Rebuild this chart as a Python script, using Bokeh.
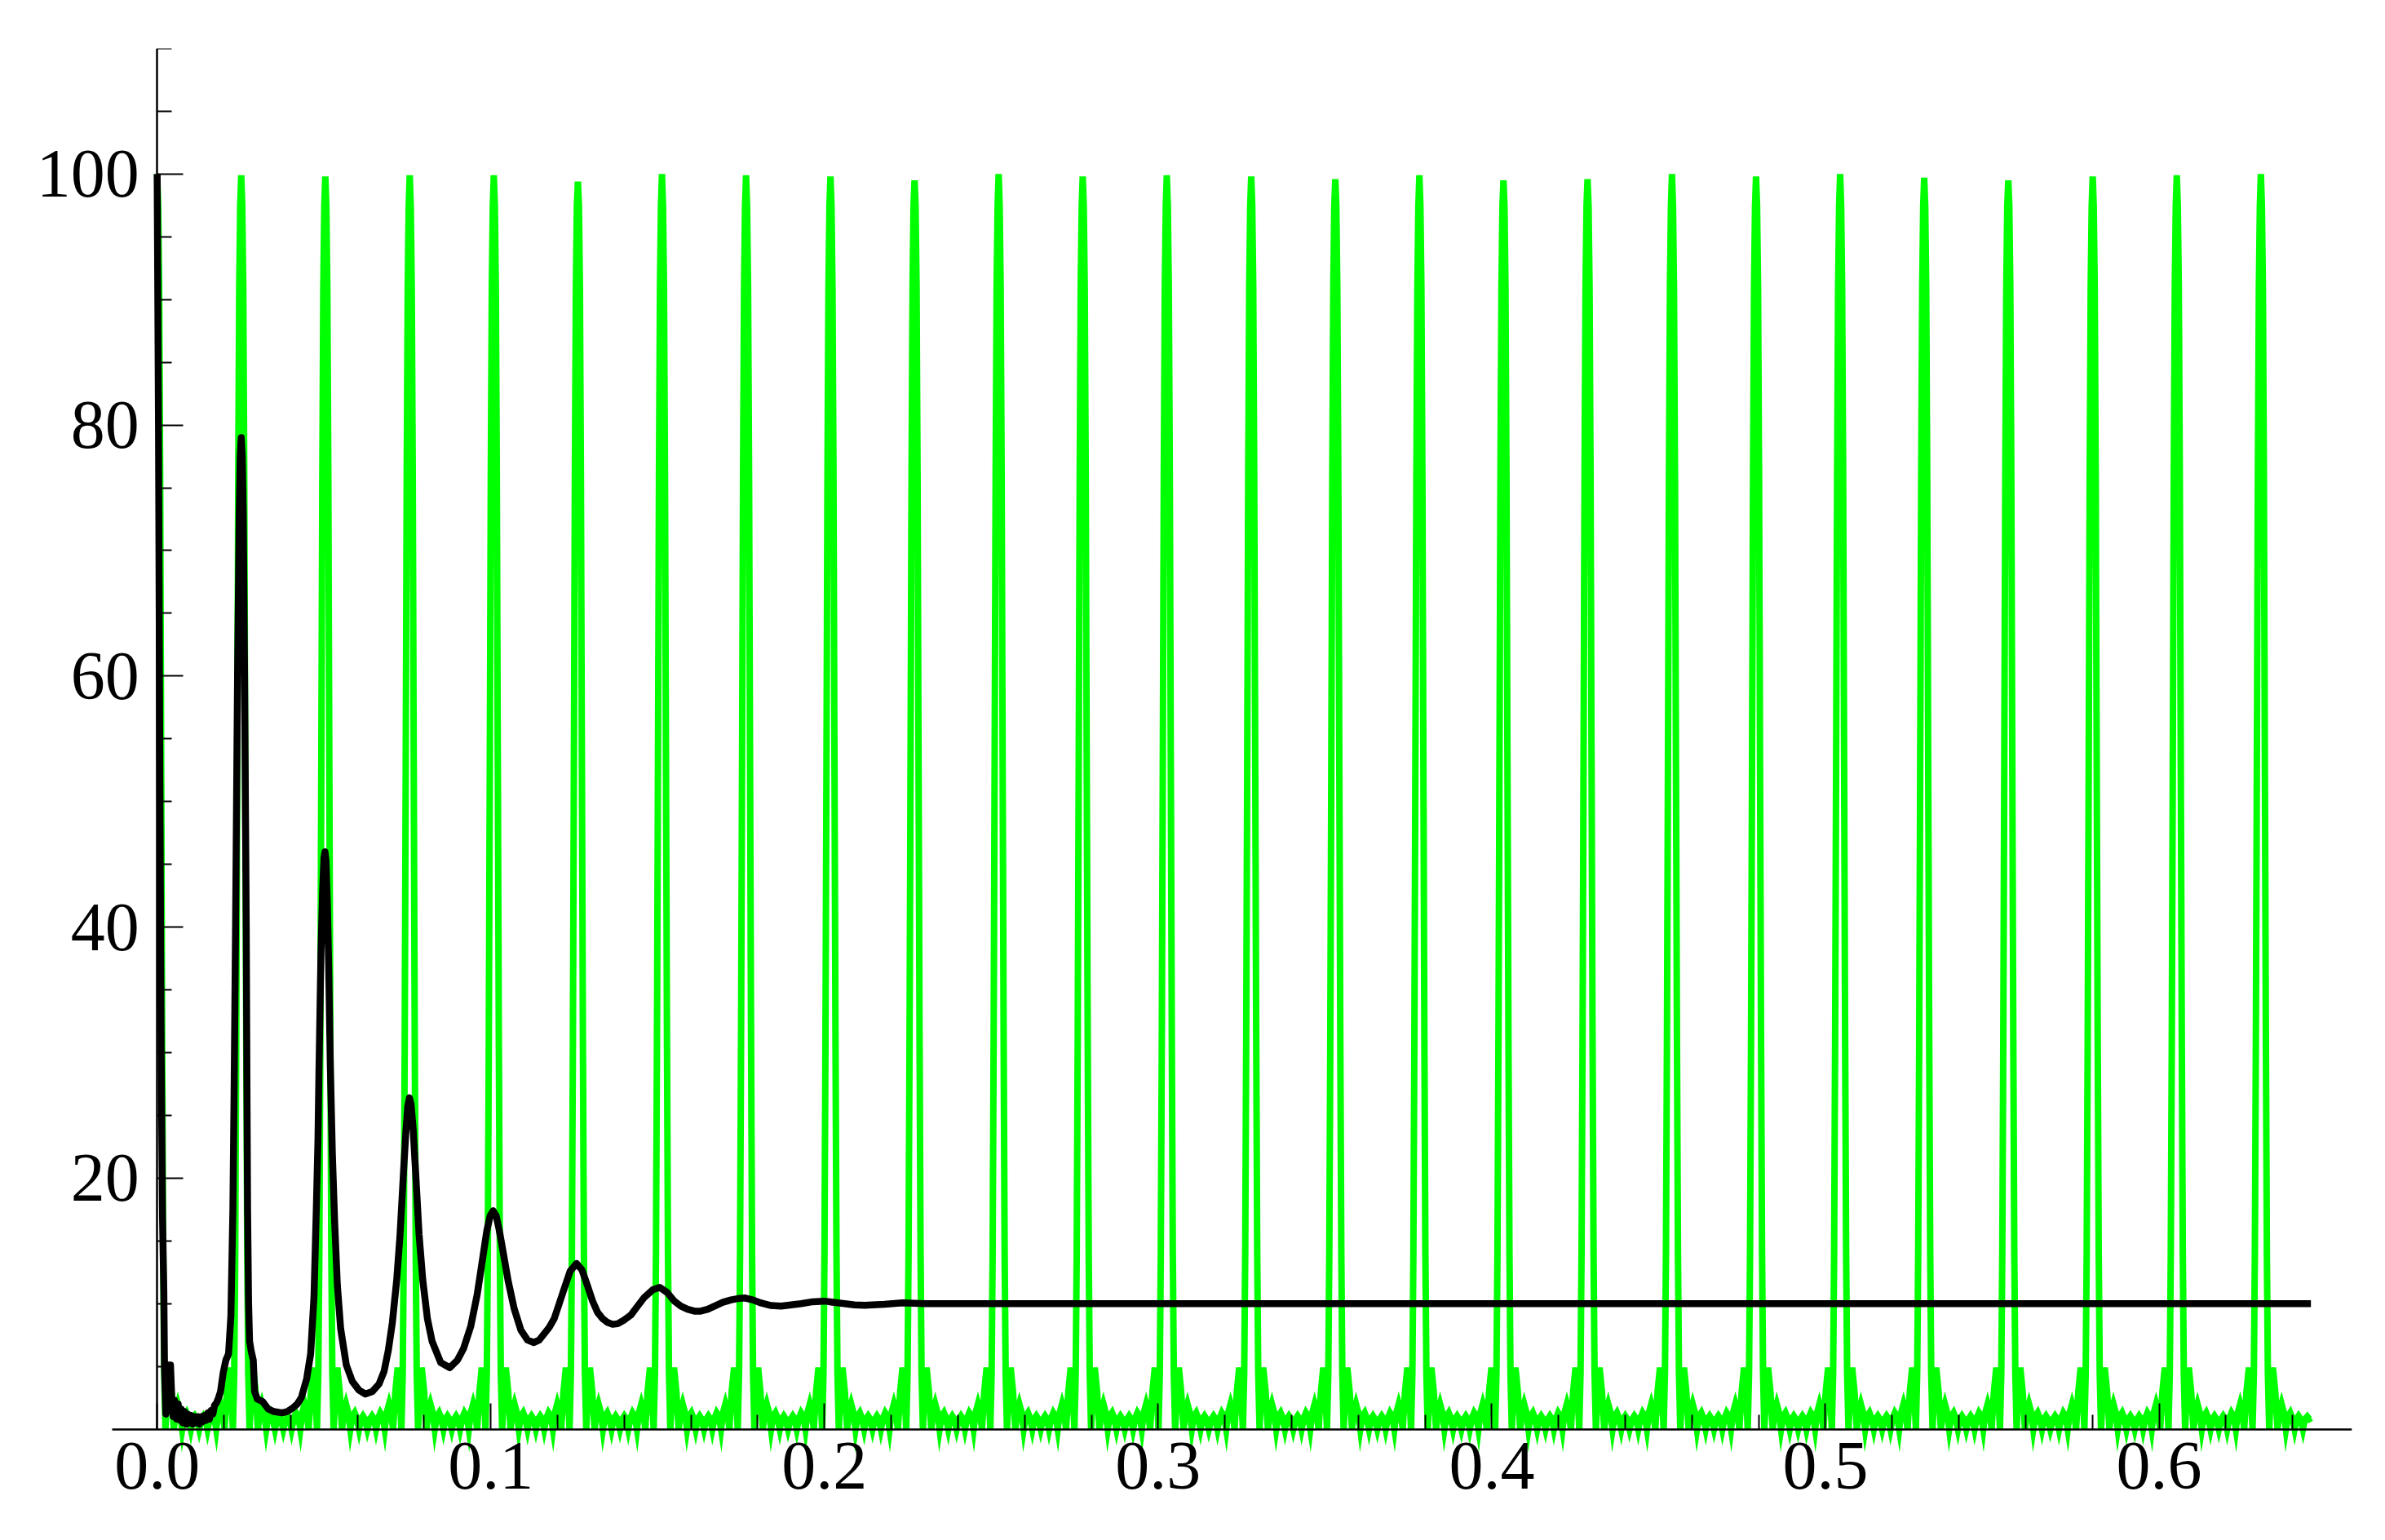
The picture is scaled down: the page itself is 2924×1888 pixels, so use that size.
from bokeh.plotting import figure
from bokeh.models import FixedTicker, NumeralTickFormatter
from bokeh.embed import file_html
from bokeh.resources import INLINE

# ---- data ----
# black curve (x, y)
black_x = [0.0, 0.0004, 0.0008, 0.0012, 0.0016, 0.0020, 0.0022, 0.0026, 0.0030, 0.0035, 0.0040,
           0.0044, 0.0048, 0.0052, 0.0058, 0.0063, 0.0068, 0.0072, 0.0077, 0.0082, 0.0087,
           0.0092, 0.0097, 0.0102, 0.0107, 0.0112, 0.0117, 0.0122, 0.0127, 0.0132, 0.0137,
           0.0142, 0.0147, 0.0152, 0.0157, 0.0162, 0.0167, 0.0172, 0.0178, 0.0184, 0.0190,
           0.0198, 0.0206, 0.0214, 0.0221, 0.0227, 0.0231, 0.0235, 0.0241, 0.0246, 0.0249,
           0.0252, 0.0255, 0.0258, 0.0262, 0.0267, 0.0269, 0.0271, 0.0274, 0.0277, 0.0282,
           0.0288, 0.0292, 0.0300, 0.0316, 0.0333, 0.0350, 0.0374, 0.0390, 0.0407, 0.0420,
           0.0432, 0.0448, 0.0460, 0.0470, 0.0477, 0.0482, 0.0485, 0.0491, 0.0496, 0.0500,
           0.0503, 0.0506, 0.0510, 0.0514, 0.0519, 0.0525, 0.0532, 0.0540, 0.0550, 0.0567,
           0.0585, 0.0605, 0.0624, 0.0645, 0.0665, 0.0680, 0.0693, 0.0705, 0.0718, 0.0728,
           0.0738, 0.0745, 0.0751, 0.0756, 0.0761, 0.0767, 0.0775, 0.0785, 0.0796, 0.0810,
           0.0824, 0.0850, 0.0877, 0.0900, 0.0918, 0.0940, 0.0959, 0.0975, 0.0988, 0.0998,
           0.1007, 0.1016, 0.1025, 0.1037, 0.1052, 0.1070, 0.1090, 0.1110, 0.1129, 0.1145,
           0.1160, 0.1175, 0.1190, 0.1205, 0.1220, 0.1238, 0.1257, 0.1273, 0.1290, 0.1305,
           0.1320, 0.1335, 0.1350, 0.1365, 0.1380, 0.1400, 0.1420, 0.1440, 0.1460, 0.1485,
           0.1506, 0.1528, 0.1550, 0.1570, 0.1590, 0.1610, 0.1629, 0.1650, 0.1670, 0.1695,
           0.1720, 0.1740, 0.1762, 0.1785, 0.1810, 0.1840, 0.1870, 0.1900, 0.1930, 0.1965,
           0.1998, 0.2030, 0.2060, 0.2090, 0.2120, 0.2180, 0.2234, 0.2300, 0.2400, 0.2600,
           0.3000, 0.4000, 0.5000, 0.6455]
black_y = [100.0, 80.0, 52.0, 30.0, 17.0, 11.0, 5.0, 1.2, 2.0, 5.1, 5.1,
           2.3, 1.0, 2.3, 0.8, 2.0, 0.7, 1.6, 0.5, 1.4, 0.4,
           1.2, 0.5, 1.1, 0.4, 1.0, 0.5, 1.0, 0.4, 1.0, 0.6,
           1.1, 0.7, 1.3, 0.8, 1.5, 1.2, 1.9, 2.1, 2.5, 3.0,
           4.5, 5.5, 6.0, 9.0, 17.5, 28.0, 40.0, 60.0, 73.0, 77.5,
           79.0, 77.5, 73.0, 60.0, 40.0, 28.0, 17.5, 10.0, 7.0, 6.2,
           5.5, 3.0, 2.4, 2.2, 1.6, 1.4, 1.3, 1.4, 1.7, 2.0,
           2.5, 4.0, 6.0, 10.5, 17.5, 23.0, 28.6, 38.0, 43.0, 45.5,
           46.0, 45.3, 42.0, 37.0, 29.0, 22.0, 16.5, 11.5, 8.0, 5.1,
           3.8, 3.1, 2.8, 3.0, 3.6, 4.6, 6.3, 8.5, 11.9, 15.5,
           20.3, 23.5, 25.7, 26.4, 25.9, 24.0, 20.3, 15.5, 11.9, 8.8,
           7.0, 5.3, 4.9, 5.5, 6.4, 8.2, 10.7, 13.5, 15.8, 17.0,
           17.4, 17.0, 15.9, 14.1, 11.8, 9.6, 7.9, 7.1, 6.9, 7.1,
           7.6, 8.1, 8.8, 10.0, 11.2, 12.6, 13.2, 12.7, 11.4, 10.2,
           9.3, 8.8, 8.5, 8.35, 8.4, 8.7, 9.1, 9.8, 10.5, 11.1,
           11.3, 10.9, 10.2, 9.8, 9.55, 9.4, 9.4, 9.55, 9.8, 10.1,
           10.3, 10.4, 10.45, 10.3, 10.05, 9.85, 9.8, 9.9, 10.0, 10.15,
           10.2, 10.1, 10.0, 9.9, 9.87, 9.95, 10.06, 10.0, 10.0, 10.0,
           10.0, 10.0, 10.0, 10.0]

# green curve: positions and heights of its principal peaks
green_peak_x = [0.0, 0.0252, 0.0504, 0.0757, 0.1009, 0.1261, 0.1513, 0.1765, 0.2018,
                0.2270, 0.2522, 0.2774, 0.3026, 0.3279, 0.3531, 0.3783, 0.4035, 0.4287,
                0.4540, 0.4792, 0.5044, 0.5296, 0.5548, 0.5801, 0.6053, 0.6305]
green_peak_y = [100.0, 99.9, 99.8, 99.9, 99.9, 99.4, 100.0, 99.9, 99.8,
                99.5, 100.0, 99.8, 99.9, 99.8, 99.6, 99.9, 99.5, 99.6,
                100.0, 99.8, 100.0, 99.7, 99.5, 99.8, 99.9, 100.0]
# shape of the green curve on one side of a peak (offset from peak, value)
green_side_offset = [0.0003, 0.0006, 0.0009, 0.0012, 0.0015, 0.0018, 0.0021, 0.0025,
                     0.0030, 0.0036, 0.0043, 0.0050, 0.0056, 0.0062, 0.0069, 0.0075,
                     0.0081, 0.0088, 0.0094, 0.0101, 0.0107, 0.0113, 0.0119, 0.0126]
green_side_value = [97.5, 91.0, 76.0, 53.0, 31.0, 14.0, 4.5, 0.0,
                    3.0, 4.9, 3.0, 0.0, 1.4, 2.0, 1.3, 0.0,
                    1.0, 1.3, 0.9, 0.0, 0.8, 1.05, 0.8, 0.0]
# end of the green curve after the last peak
green_tail_x = [0.6437, 0.6444, 0.6450, 0.6456]
green_tail_y = [0.8, 1.0, 0.8, 0.9]

x_major = [0.0, 0.1, 0.2, 0.3, 0.4, 0.5, 0.6]
x_minor = [0.02, 0.04, 0.06, 0.08, 0.12, 0.14, 0.16, 0.18, 0.22, 0.24, 0.26, 0.28,
           0.32, 0.34, 0.36, 0.38, 0.42, 0.44, 0.46, 0.48, 0.52, 0.54, 0.56, 0.58,
           0.62, 0.64]
y_major = [20, 40, 60, 80, 100]
y_minor = [5, 10, 15, 25, 30, 35, 45, 50, 55, 65, 70, 75, 85, 90, 95, 105, 110]

# ---- build green polyline from the read peaks and side shape ----
green_x, green_y = [], []
for c, h in zip(green_peak_x, green_peak_y):
    left = list(zip(green_side_offset[:-1], green_side_value[:-1]))[::-1]
    for off, v in left:
        if c - off >= 0:
            green_x.append(c - off)
            green_y.append(v)
    green_x.append(c)
    green_y.append(h)
    for off, v in zip(green_side_offset, green_side_value):
        green_x.append(c + off)
        green_y.append(v)
green_x += green_tail_x
green_y += green_tail_y

p = figure(frame_width=2834, frame_height=1808,
           x_range=(-0.035, 0.6578), y_range=(-7.5, 110.0),
           min_border_left=49, min_border_top=59, min_border_right=20,
           min_border_bottom=5,
           output_backend="svg", toolbar_location=None)
p.outline_line_color = None
p.grid.visible = False
p.background_fill_color = "white"
p.border_fill_color = "white"

p.line(green_x, green_y, line_color="#00FF00", line_width=8, line_join="miter")
p.line(black_x, black_y, line_color="black", line_width=8.5, line_join="round")

xa = p.xaxis[0]
xa.fixed_location = 0
xa.bounds = (-0.0134, 0.6578)
xa.ticker = FixedTicker(ticks=x_major, minor_ticks=x_minor)
xa.formatter = NumeralTickFormatter(format="0.0")
ya = p.yaxis[0]
ya.fixed_location = 0
ya.bounds = (0, 110)
ya.ticker = FixedTicker(ticks=y_major, minor_ticks=y_minor)
ya.formatter = NumeralTickFormatter(format="0")

for ax in (xa, ya):
    ax.axis_line_width = 2.5
    ax.axis_line_color = "black"
    ax.major_tick_line_width = 2
    ax.minor_tick_line_width = 2
    ax.major_tick_in = 32
    ax.major_tick_out = 0
    ax.minor_tick_in = 18
    ax.minor_tick_out = 0
    ax.major_label_text_font = "Liberation Serif"
    ax.major_label_text_font_size = "84px"
    ax.major_label_text_color = "black"
    ax.major_label_text_font_style = "normal"
xa.major_label_standoff = 17
ya.major_label_standoff = 22

open("out.html", "w").write(file_html(p, INLINE))
